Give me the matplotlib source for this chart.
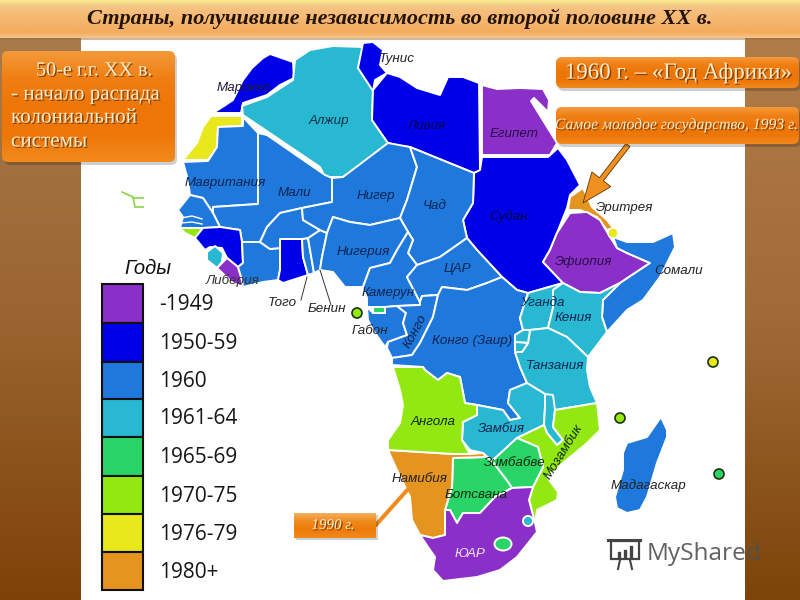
# encoding: utf-8

'''
Africa independence map, slide layout in pixel coordinates
'''

import numpy as np
import matplotlib
matplotlib.use('Agg')
import matplotlib.pyplot as plt
import matplotlib.patheffects as pe
from matplotlib.patches import Polygon, Rectangle, FancyBboxPatch, Ellipse, Circle, FancyArrow
from matplotlib.colors import LinearSegmentedColormap

# legend
periods = ['-1949', '1950-59', '1960', '1961-64', '1965-69', '1970-75', '1976-79', '1980+']
period_colors = ['#8A30C8', '#0000E8', '#1F78DC', '#28B8D2', '#2AD568', '#94E812', '#E8E81C', '#E59420']
legend_edges = [284, 323, 362, 399, 437, 476, 514, 552, 590]

# country outlines, picture pixels, with the period index each one belongs to
morocco = [(213,113),(224,106),(233,100),(238,90),(243,80),(252,68),(263,58),(270,54),(293,62),(294,78),(280,85),(267,95),(243,103),(241,113)]
w_sahara = [(211,116),(242,116),(242,126),(218,127),(217,147),(208,160),(183,160),(197,143),(203,127)]
algeria = [(242,106),(267,97),(293,80),(295,60),(310,50),(333,46),(363,47),(358,68),(373,90),(372,120),(388,143),(360,165),(343,177),(325,177),(320,167),(243,115)]
tunisia = [(363,43),(373,42),(383,50),(380,65),(387,73),(375,80),(373,91),(358,68)]
libya = [(387,73),(400,77),(417,88),(440,95),(448,77),(463,77),(479,83),(480,171),(474,173),(410,147),(400,146),(388,143),(372,120),(373,90)]
egypt = [(482,85),(497,89),(520,88),(543,89),(549,100),(548,112),(534,98),(531,101),(557,143),(550,155),(482,155)]
sudan = [(482,157),(548,157),(558,148),(567,160),(580,185),(570,195),(567,208),(557,233),(550,250),(543,262),(563,283),(528,293),(517,290),(502,277),(477,250),(467,238),(463,220),(473,203),(474,173),(480,170)]
eritrea = [(570,197),(583,188),(592,207),(607,220),(613,228),(607,230),(597,217),(580,210),(568,210)]
ethiopia = [(570,213),(587,212),(600,220),(610,237),(617,248),(627,253),(650,263),(620,283),(600,293),(580,292),(563,283),(543,262),(550,250),(557,233)]
somalia = [(613,237),(627,242),(653,242),(673,233),(675,247),(660,277),(643,300),(627,310),(607,332),(602,317),(603,300),(620,283),(650,263),(627,253),(617,248)]
mauritania = [(183,162),(208,161),(217,147),(218,127),(243,126),(243,117),(258,133),(258,204),(213,207),(213,213),(203,198),(190,195),(188,180)]
mali = [(258,133),(267,135),(325,175),(332,178),(332,202),(302,208),(280,213),(267,227),(260,242),(242,242),(240,230),(220,227),(213,213),(213,207),(258,204)]
senegal = [(178,210),(190,195),(203,198),(213,213),(220,227),(203,228),(180,228),(183,217)]
g_bissau = [(180,228),(203,228),(195,238),(185,233)]
guinea = [(195,238),(203,228),(220,227),(240,230),(242,242),(243,263),(238,267),(227,258),(222,248),(210,247),(205,250)]
s_leone = [(207,252),(215,246),(223,253),(222,262),(217,268),(207,260)]
liberia = [(217,268),(227,258),(238,267),(242,280),(243,287),(233,283)]
ivory = [(242,242),(260,242),(270,249),(280,248),(280,270),(278,280),(263,282),(243,287),(242,280),(238,267),(243,263)]
ghana = [(280,239),(302,239),(303,257),(308,275),(283,283),(278,280),(280,270),(280,257)]
togo = [(302,239),(308,238),(314,273),(308,275),(303,257)]
benin = [(308,238),(320,230),(327,233),(322,257),(320,270),(314,273)]
burkina = [(260,242),(267,227),(280,213),(302,208),(303,220),(320,230),(308,238),(302,239),(280,239),(280,248),(270,249)]
niger = [(332,178),(343,177),(388,143),(410,147),(417,167),(407,200),(400,218),(370,225),(350,222),(333,217),(327,233),(320,230),(303,220),(302,208),(332,202)]
chad = [(410,147),(474,173),(473,203),(463,220),(467,238),(440,257),(417,265),(408,253),(413,240),(408,232),(400,218),(407,200),(417,167)]
nigeria = [(333,217),(350,222),(370,225),(400,218),(408,232),(397,250),(390,263),(370,268),(363,287),(345,287),(333,272),(320,270),(322,257),(327,233)]
cameroon = [(408,232),(413,240),(408,253),(417,265),(407,277),(420,302),(420,305),(397,306),(385,307),(367,307),(367,298),(363,287),(370,268),(390,263),(397,250)]
eq_guinea = [(373,307),(385,307),(385,313),(373,313)]
car = [(467,238),(477,250),(502,277),(487,283),(467,290),(442,287),(438,295),(422,296),(420,302),(407,277),(417,265),(440,257)]
gabon = [(367,307),(373,313),(385,313),(385,307),(397,306),(406,313),(403,323),(407,335),(388,342),(385,347),(373,330),(368,320)]
congo = [(422,296),(438,295),(433,317),(420,343),(412,355),(392,358),(387,348),(388,342),(407,335),(403,323),(406,313),(397,306),(420,305),(420,302)]
zaire = [(442,287),(467,290),(487,283),(502,277),(517,290),(528,293),(520,318),(523,330),(515,335),(515,352),(520,367),(527,383),(510,390),(508,403),(520,418),(510,420),(503,410),(477,405),(465,403),(460,377),(447,373),(438,380),(425,370),(423,367),(392,365),(392,358),(412,355),(420,343),(433,317),(438,295)]
uganda = [(528,293),(563,283),(553,290),(553,308),(548,328),(530,330),(523,330),(520,318)]
kenya = [(563,283),(580,292),(600,293),(620,283),(603,300),(602,317),(607,332),(588,357),(567,337),(548,328),(553,308),(553,290)]
tanzania = [(530,330),(548,328),(567,337),(588,357),(587,370),(590,387),(597,403),(555,410),(545,394),(527,383),(520,367),(515,352),(522,352),(528,343)]
rwanda = [(515,335),(523,330),(530,330),(528,343),(515,342)]
burundi = [(515,342),(528,343),(522,352),(515,352)]
zambia = [(510,390),(527,383),(545,394),(545,407),(544,425),(517,438),(492,461),(483,453),(470,450),(462,440),(463,422),(477,415),(477,405),(503,410),(510,420),(520,418),(508,403)]
malawi = [(545,394),(553,395),(555,410),(553,427),(563,440),(557,445),(547,433),(544,425),(545,407)]
mozambique = [(555,410),(597,403),(600,430),(587,443),(563,463),(547,477),(558,492),(557,500),(537,510),(535,523),(529,500),(533,487),(543,467),(538,447),(517,438),(544,425),(547,433),(557,445),(563,440),(553,427)]
zimbabwe = [(492,461),(517,438),(538,447),(543,467),(533,487),(512,488),(508,482)]
botswana = [(453,458),(486,457),(492,461),(508,482),(512,488),(495,497),(480,513),(463,513),(457,523),(450,510),(445,510),(452,487)]
namibia = [(388,450),(453,454),(470,454),(483,453),(486,457),(453,458),(452,487),(445,510),(445,535),(433,538),(420,535),(412,520),(410,497),(397,470)]
angola = [(393,367),(423,367),(425,370),(438,380),(447,373),(460,377),(465,403),(477,405),(477,415),(463,422),(462,440),(470,454),(453,454),(388,450),(388,440),(400,423),(403,405),(400,390)]
south_africa = [(420,535),(433,538),(445,535),(445,510),(450,510),(457,523),(463,513),(480,513),(495,497),(512,488),(533,487),(529,500),(535,523),(537,532),(517,557),(500,570),(477,577),(443,581),(433,570),(435,557),(428,547)]
madagascar = [(661,417),(667,430),(667,437),(657,463),(647,497),(640,510),(627,513),(617,508),(615,497),(623,470),(623,453),(627,443),(647,437)]

countries = [
    (morocco, 1), (w_sahara, 6), (algeria, 3), (tunisia, 1), (libya, 1), (egypt, 0),
    (sudan, 1), (eritrea, 7), (ethiopia, 0), (somalia, 2), (mauritania, 2), (mali, 2),
    (senegal, 2), (g_bissau, 5), (guinea, 1), (s_leone, 3), (liberia, 0), (ivory, 2),
    (ghana, 1), (togo, 2), (benin, 2), (burkina, 2), (niger, 2), (chad, 2), (nigeria, 2),
    (cameroon, 2), (gabon, 2), (eq_guinea, 4), (car, 2), (congo, 2), (zaire, 2),
    (uganda, 3), (kenya, 3), (tanzania, 3), (rwanda, 3), (burundi, 3), (zambia, 3),
    (malawi, 3), (mozambique, 5), (zimbabwe, 4), (botswana, 4), (namibia, 7), (angola, 5),
    (south_africa, 0), (madagascar, 2),
]

# name, x, y, rotation, colour
map_labels = [
    ('Тунис', 397, 59, 0, '#222222'), ('Марокко', 244, 88, 0, '#1c1c3c'), ('Алжир', 329, 121, 0, '#103048'),
    ('Ливия', 427, 126, 0, '#00004c'), ('Египет', 514, 134, 0, '#2a0c48'), ('Мавритания', 225, 183, 0, '#0a2450'),
    ('Мали', 294, 193, 0, '#0a2450'), ('Нигер', 376, 196, 0, '#0a2450'), ('Чад', 435, 206, 0, '#0a2450'),
    ('Судан', 509, 217, 0, '#00004c'), ('Эритрея', 625, 208, 0, '#222222'), ('Нигерия', 363, 252, 0, '#0a2450'),
    ('Эфиопия', 584, 262, 0, '#2a0c48'), ('Сомали', 679, 271, 0, '#222222'), ('ЦАР', 457, 269, 0, '#0a2450'),
    ('Либерия', 233, 281, 0, '#333333'), ('Того', 282, 303, 0, '#222222'), ('Бенин', 327, 309, 0, '#222222'),
    ('Камерун', 388, 293, 0, '#0a2450'), ('Габон', 370, 331, 0, '#222222'), ('Конго', 416, 331, 62, '#0a2450'),
    ('Конго (Заир)', 472, 341, 0, '#0a2450'), ('Уганда', 542, 303, 0, '#0a2450'), ('Кения', 573, 318, 0, '#0a2450'),
    ('Танзания', 555, 366, 0, '#0a2450'), ('Ангола', 433, 422, 0, '#0c280c'), ('Замбия', 501, 429, 0, '#0a2450'),
    ('Зимбабве', 515, 463, 0, '#0c280c'), ('Мозамбик', 564, 452, 58, '#0c280c'), ('Намибия', 420, 479, 0, '#222222'),
    ('Ботсвана', 476, 495, 0, '#0c280c'), ('Мадагаскар', 648, 486, 0, '#222222'), ('ЮАР', 470, 554, 0, '#f3e6f8'),
]

island_dots = [(713, 362), (620, 418), (719, 474), (357, 313)]
island_dot_periods = [6, 5, 4, 5]

W, H = 800, 600
fig = plt.figure(figsize=(8, 6), dpi=100)
ax = fig.add_axes([0, 0, 1, 1])


def gradient(x0, y0, x1, y1, colors, clip=None, z=1):
    cmap = LinearSegmentedColormap.from_list('g', colors)
    img = np.linspace(0, 1, 256).reshape(-1, 1)
    im = ax.imshow(img, cmap=cmap, extent=(x0, x1, y1, y0), origin='upper', aspect='auto', zorder=z)
    if clip is not None:
        im.set_clip_path(clip)
    return im


def orange_box(x, y, w, h, z=6):
    ax.add_patch(FancyBboxPatch((x + 2, y + 3), w, h, boxstyle='round,pad=0,rounding_size=6',
                                fc='#00000030', ec='none', zorder=z))
    box = FancyBboxPatch((x, y), w, h, boxstyle='round,pad=0,rounding_size=6', fc='none', ec='none', zorder=z)
    ax.add_patch(box)
    gradient(x, y, x + w, y + h, ['#F39A3A', '#F07E12', '#EE7608', '#EE7608', '#F28A1C'], clip=box, z=z + 0.1)


def light_text(x, y, s, size, ha='left', style='normal'):
    ax.text(x, y, s, fontsize=size, ha=ha, va='center', family='Liberation Serif', style=style,
            color='#FCEBCE', zorder=9,
            path_effects=[pe.withSimplePatchShadow(offset=(1, -1), shadow_rgbFace='#6a3500', alpha=0.8)])


# slide background
ax.add_patch(Rectangle((0, 0), W, H, fc='white', zorder=0))
gradient(0, 38, 81, 600, ['#A87A4C', '#9A6430', '#7E4208'])
gradient(745, 38, 800, 600, ['#B07C4A', '#A06A38', '#7C4408'])

# title banner
gradient(0, 0, 800, 38, ['#F9F090', '#F6C886', '#F6BE7C', '#F6BA74', '#F5B66E', '#F5B066', '#F4AC5E', '#F8C68C'], z=3)
ax.plot([0, 800], [38.5, 38.5], color='#99703f', lw=1.5, alpha=0.5, zorder=3)
ax.text(400, 19, 'Страны, получившие независимость во второй половине XX в.', fontsize=16, ha='center',
        va='center', family='Liberation Serif', weight='bold', style='italic', color='#241408', zorder=4)

# map
for outline, period in countries:
    ax.add_patch(Polygon(outline, closed=True, fc=period_colors[period], ec='white', lw=1.4, joinstyle='round', zorder=2))
ax.plot([181, 192, 202], [218, 216, 219], color='white', lw=1, zorder=2.2)
ax.plot([181, 192, 202], [223, 222, 224], color='white', lw=1, zorder=2.2)
ax.add_patch(Circle((613, 233), 5, fc=period_colors[6], ec='white', lw=1, zorder=2.2))
ax.add_patch(Ellipse((503, 544), 17, 13, fc=period_colors[4], ec='white', lw=1.4, zorder=2.2))
ax.add_patch(Circle((528, 521), 5, fc=period_colors[3], ec='white', lw=1.4, zorder=2.2))
ax.plot([122, 133, 135, 143], [192, 197, 207, 207], color='#90D850', lw=1.3, zorder=2)
ax.plot([133, 143], [198, 198], color='#90D850', lw=1.3, zorder=2)
for (x, y), period in zip(island_dots, island_dot_periods):
    ax.add_patch(Circle((x, y), 5, fc=period_colors[period], ec='#1c3010', lw=1.2, zorder=2))

for name, x, y, rot, col in map_labels:
    ax.text(x, y, name, fontsize=9.6, ha='center', va='center', rotation=rot, style='italic',
            family='Liberation Sans', color=col, zorder=5)
ax.plot([301, 307], [300, 277], color='#333333', lw=0.7, zorder=5)
ax.plot([320, 331], [270, 305], color='#333333', lw=0.7, zorder=5)

# legend
ax.text(148, 269, 'Годы', fontsize=14.5, ha='center', va='center', style='italic', family='Liberation Sans', color='#111111', zorder=5)
for i, label in enumerate(periods):
    ax.add_patch(Rectangle((102, legend_edges[i]), 41, legend_edges[i + 1] - legend_edges[i],
                           fc=period_colors[i], ec='#101010', lw=1.5, zorder=4))
    ax.text(159, (legend_edges[i] + legend_edges[i + 1]) / 2 + 1, label, fontsize=15, ha='left', va='center',
            family='Open Sans', weight='medium', color='#161616', zorder=5)

# orange call-outs
orange_box(2, 51, 173, 111)
light_text(36, 71, '50-е г.г. XX в.', 14.5)
light_text(11, 95, '- начало распада', 15.2)
light_text(11, 118, 'колониальной', 15.2)
light_text(11, 142, 'системы', 15.2)
orange_box(556, 57, 243, 31)
light_text(678, 73, '1960 г. – «Год Африки»', 16.5, ha='center')
orange_box(556, 107, 243, 37)
light_text(677, 125, 'Самое молодое государство, 1993 г.', 11.3, ha='center', style='italic')
ax.add_patch(FancyArrow(628, 145, -45, 58, width=5, head_width=24, head_length=30, length_includes_head=True,
                        fc='#F09020', ec='#5a3600', lw=0.6, zorder=5.5))
ax.add_patch(FancyArrow(375, 526, 34, -38, width=4, head_width=5, head_length=3, length_includes_head=True,
                        fc='#F08A1C', ec='none', zorder=5.5))
ax.add_patch(Rectangle((296, 515), 82, 25, fc='#00000030', ec='none', zorder=5.8))
gradient(294, 513, 376, 538, ['#F4B060', '#F08A1C', '#EE7A08', '#F08A20'], z=6)
light_text(333, 525.5, '1990 г.', 10.8, ha='center', style='italic')

# watermark
ax.add_patch(Rectangle((611, 541), 28, 18, fc='none', ec='#444444', lw=1.6, zorder=7))
ax.plot([608, 640], [540, 540], color='#444444', lw=2.2, zorder=7)
for x, top in zip([619, 625, 631], [553, 551, 547]):
    ax.plot([x, x], [top, 557], color='#444444', lw=2.4, zorder=7)
ax.plot([620, 618], [560, 569], color='#444444', lw=1.5, zorder=7)
ax.plot([630, 632], [560, 569], color='#444444', lw=1.5, zorder=7)
ax.text(647, 554, 'MyShared', fontsize=17.6, ha='left', va='center', family='Open Sans', color='#505050', alpha=0.9, zorder=7)

ax.set_xlim(0, W)
ax.set_ylim(H, 0)
ax.axis('off')

fig.savefig('out.png', dpi=100)
